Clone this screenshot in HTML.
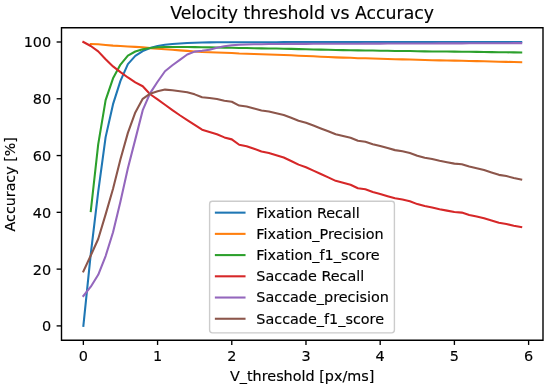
<!DOCTYPE html>
<html><head><meta charset="utf-8"><title>Velocity threshold vs Accuracy</title>
<style>html,body{margin:0;padding:0;background:#fff;width:550px;height:389px;overflow:hidden}svg{display:block}svg text{stroke:#000;stroke-width:0.15px}</style>
</head><body>
<svg width="550" height="389" viewBox="0 0 550 389">
<rect width="550" height="389" fill="#ffffff"/>
<g stroke="#000" stroke-width="1.350"><line x1="83.36" y1="340.10" x2="83.36" y2="344.96"/><line x1="157.57" y1="340.10" x2="157.57" y2="344.96"/><line x1="231.78" y1="340.10" x2="231.78" y2="344.96"/><line x1="305.98" y1="340.10" x2="305.98" y2="344.96"/><line x1="380.19" y1="340.10" x2="380.19" y2="344.96"/><line x1="454.40" y1="340.10" x2="454.40" y2="344.96"/><line x1="528.61" y1="340.10" x2="528.61" y2="344.96"/><line x1="61.47" y1="325.90" x2="56.61" y2="325.90"/><line x1="61.47" y1="269.12" x2="56.61" y2="269.12"/><line x1="61.47" y1="212.34" x2="56.61" y2="212.34"/><line x1="61.47" y1="155.56" x2="56.61" y2="155.56"/><line x1="61.47" y1="98.78" x2="56.61" y2="98.78"/><line x1="61.47" y1="42.00" x2="56.61" y2="42.00"/></g>
<g font-family="'DejaVu Sans', 'Liberation Sans', sans-serif" font-size="14.45" fill="#000"><text x="83.36" y="361.30" text-anchor="middle">0</text><text x="157.57" y="361.30" text-anchor="middle">1</text><text x="231.78" y="361.30" text-anchor="middle">2</text><text x="305.98" y="361.30" text-anchor="middle">3</text><text x="380.19" y="361.30" text-anchor="middle">4</text><text x="454.40" y="361.30" text-anchor="middle">5</text><text x="528.61" y="361.30" text-anchor="middle">6</text><text x="51.20" y="331.35" text-anchor="end">0</text><text x="51.20" y="274.57" text-anchor="end">20</text><text x="51.20" y="217.79" text-anchor="end">40</text><text x="51.20" y="161.01" text-anchor="end">60</text><text x="51.20" y="104.23" text-anchor="end">80</text><text x="51.20" y="47.45" text-anchor="end">100</text></g>
<text x="302.15" y="380.90" text-anchor="middle" font-family="'DejaVu Sans', 'Liberation Sans', sans-serif" font-size="14.36">V_threshold [px/ms]</text>
<text transform="translate(15.00,184.30) rotate(-90)" text-anchor="middle" font-family="'DejaVu Sans', 'Liberation Sans', sans-serif" font-size="14.27">Accuracy [%]</text>
<text x="302.10" y="18.60" text-anchor="middle" font-family="'DejaVu Sans', 'Liberation Sans', sans-serif" font-size="17.3">Velocity threshold vs Accuracy</text>
<defs><clipPath id="c"><rect x="61.47" y="27.8" width="481.6" height="312.3"/></clipPath></defs>
<g clip-path="url(#c)" fill="none" stroke-width="2.083" stroke-linecap="square" stroke-linejoin="round"><path d="M83.36 325.90 L90.78 253.79 L98.20 191.90 L105.62 137.11 L113.04 104.17 L120.46 80.89 L127.88 64.14 L135.31 55.91 L142.73 51.08 L150.15 47.96 L157.57 45.97 L164.99 44.70 L172.41 43.99 L179.83 43.42 L187.25 42.99 L194.67 42.71 L202.09 42.51 L209.51 42.37 L216.93 42.28 L224.36 42.23 L231.78 42.20 L239.20 42.19 L246.62 42.19 L254.04 42.18 L261.46 42.18 L268.88 42.17 L276.30 42.17 L283.72 42.16 L291.14 42.16 L298.56 42.15 L305.98 42.15 L313.40 42.14 L320.83 42.14 L328.25 42.13 L335.67 42.13 L343.09 42.12 L350.51 42.12 L357.93 42.11 L365.35 42.11 L372.77 42.10 L380.19 42.10 L387.61 42.09 L395.03 42.09 L402.45 42.08 L409.88 42.08 L417.30 42.07 L424.72 42.07 L432.14 42.06 L439.56 42.06 L446.98 42.05 L454.40 42.05 L461.82 42.04 L469.24 42.04 L476.66 42.03 L484.08 42.03 L491.50 42.02 L498.92 42.02 L506.35 42.01 L513.77 42.01 L521.19 42.00" stroke="#1f77b4"/><path d="M90.78 44.07 L98.20 44.31 L105.62 45.02 L113.04 45.62 L120.46 46.03 L127.88 46.44 L135.31 46.89 L142.73 47.27 L150.15 48.12 L157.57 48.66 L164.99 49.24 L172.41 49.83 L179.83 50.38 L187.25 50.90 L194.67 51.42 L202.09 51.95 L209.51 52.19 L216.93 52.44 L224.36 52.77 L231.78 52.99 L239.20 53.57 L246.62 53.72 L254.04 54.00 L261.46 54.30 L268.88 54.46 L276.30 54.70 L283.72 54.94 L291.14 55.31 L298.56 55.70 L305.98 55.97 L313.40 56.33 L320.83 56.69 L328.25 57.05 L335.67 57.41 L343.09 57.62 L350.51 57.82 L357.93 58.18 L365.35 58.30 L372.77 58.56 L380.19 58.77 L387.61 59.01 L395.03 59.23 L402.45 59.36 L409.88 59.53 L417.30 59.83 L424.72 60.03 L432.14 60.18 L439.56 60.35 L446.98 60.50 L454.40 60.64 L461.82 60.70 L469.24 60.93 L476.66 61.10 L484.08 61.28 L491.50 61.51 L498.92 61.74 L506.35 61.85 L513.77 62.03 L521.19 62.17" stroke="#ff7f0e"/><path d="M90.78 211.06 L98.20 144.31 L105.62 100.09 L113.04 78.31 L120.46 64.62 L127.88 55.58 L135.31 51.47 L142.73 49.19 L150.15 48.04 L157.57 47.32 L164.99 46.99 L172.41 46.94 L179.83 46.94 L187.25 47.00 L194.67 47.14 L202.09 47.31 L209.51 47.37 L216.93 47.45 L224.36 47.60 L231.78 47.70 L239.20 48.00 L246.62 48.08 L254.04 48.22 L261.46 48.37 L268.88 48.45 L276.30 48.58 L283.72 48.70 L291.14 48.89 L298.56 49.09 L305.98 49.23 L313.40 49.42 L320.83 49.61 L328.25 49.79 L335.67 49.98 L343.09 50.09 L350.51 50.19 L357.93 50.38 L365.35 50.44 L372.77 50.58 L380.19 50.69 L387.61 50.81 L395.03 50.92 L402.45 50.99 L409.88 51.08 L417.30 51.24 L424.72 51.34 L432.14 51.42 L439.56 51.51 L446.98 51.58 L454.40 51.66 L461.82 51.69 L469.24 51.81 L476.66 51.90 L484.08 51.99 L491.50 52.11 L498.92 52.23 L506.35 52.29 L513.77 52.38 L521.19 52.46" stroke="#2ca02c"/><path d="M83.36 42.00 L90.78 45.97 L98.20 51.37 L105.62 59.32 L113.04 66.42 L120.46 72.09 L127.88 77.49 L135.31 82.31 L142.73 86.29 L150.15 94.24 L157.57 99.35 L164.99 104.74 L172.41 110.14 L179.83 115.25 L187.25 120.07 L194.67 124.90 L202.09 129.73 L209.51 132.00 L216.93 134.27 L224.36 137.39 L231.78 139.38 L239.20 144.77 L246.62 146.19 L254.04 148.75 L261.46 151.59 L268.88 153.00 L276.30 155.28 L283.72 157.55 L291.14 160.95 L298.56 164.64 L305.98 167.20 L313.40 170.61 L320.83 174.01 L328.25 177.42 L335.67 180.83 L343.09 182.81 L350.51 184.80 L357.93 188.21 L365.35 189.34 L372.77 191.90 L380.19 193.89 L387.61 196.16 L395.03 198.29 L402.45 199.56 L409.88 201.27 L417.30 204.11 L424.72 206.09 L432.14 207.51 L439.56 209.22 L446.98 210.64 L454.40 212.06 L461.82 212.62 L469.24 214.90 L476.66 216.60 L484.08 218.30 L491.50 220.57 L498.92 222.84 L506.35 223.98 L513.77 225.68 L521.19 227.10" stroke="#d62728"/><path d="M83.36 295.95 L90.78 286.72 L98.20 274.80 L105.62 256.06 L113.04 232.21 L120.46 201.55 L127.88 168.34 L135.31 139.38 L142.73 110.14 L150.15 93.10 L157.57 81.75 L164.99 71.24 L172.41 65.28 L179.83 59.89 L187.25 54.49 L194.67 51.65 L202.09 50.80 L209.51 49.67 L216.93 47.68 L224.36 46.26 L231.78 45.26 L239.20 44.75 L246.62 44.50 L254.04 44.33 L261.46 44.19 L268.88 44.04 L276.30 43.96 L283.72 43.93 L291.14 43.91 L298.56 43.88 L305.98 43.86 L313.40 43.83 L320.83 43.81 L328.25 43.78 L335.67 43.76 L343.09 43.73 L350.51 43.71 L357.93 43.68 L365.35 43.66 L372.77 43.63 L380.19 43.61 L387.61 43.58 L395.03 43.56 L402.45 43.53 L409.88 43.51 L417.30 43.48 L424.72 43.46 L432.14 43.43 L439.56 43.41 L446.98 43.39 L454.40 43.36 L461.82 43.34 L469.24 43.31 L476.66 43.29 L484.08 43.26 L491.50 43.24 L498.92 43.21 L506.35 43.19 L513.77 43.16 L521.19 43.14" stroke="#9467bd"/><path d="M83.36 271.39 L90.78 255.49 L98.20 239.03 L105.62 214.33 L113.04 188.78 L120.46 159.25 L127.88 132.85 L135.31 112.41 L142.73 98.84 L150.15 93.67 L157.57 91.30 L164.99 89.60 L172.41 90.25 L179.83 91.21 L187.25 92.21 L194.67 94.35 L202.09 97.30 L209.51 98.04 L216.93 98.95 L224.36 100.69 L231.78 101.80 L239.20 105.58 L246.62 106.56 L254.04 108.42 L261.46 110.53 L268.88 111.58 L276.30 113.31 L283.72 115.07 L291.14 117.76 L298.56 120.71 L305.98 122.79 L313.40 125.59 L320.83 128.44 L328.25 131.34 L335.67 134.28 L343.09 136.02 L350.51 137.77 L357.93 140.82 L365.35 141.84 L372.77 144.17 L380.19 146.00 L387.61 148.12 L395.03 150.12 L402.45 151.33 L409.88 152.96 L417.30 155.71 L424.72 157.65 L432.14 159.06 L439.56 160.75 L446.98 162.17 L454.40 163.61 L461.82 164.18 L469.24 166.50 L476.66 168.26 L484.08 170.04 L491.50 172.43 L498.92 174.85 L506.35 176.07 L513.77 177.92 L521.19 179.47" stroke="#8c564b"/></g>
<path d="M61.50 340.30 L61.50 27.70 M543.00 340.30 L543.00 27.70 M61.50 340.30 L543.00 340.30 M61.50 27.70 L543.00 27.70" fill="none" stroke="#000" stroke-width="1.400" stroke-linecap="square" stroke-linejoin="miter"/>
<rect x="209.60" y="201.20" width="184.80" height="131.70" rx="2.78" ry="2.78" fill="#fff" fill-opacity="0.8" stroke="#ccc" stroke-width="1.389"/>
<g><line x1="215.90" y1="212.65" x2="244.50" y2="212.65" stroke="#1f77b4" stroke-width="2.083" stroke-linecap="square"/><text x="256.30" y="217.60" font-family="'DejaVu Sans', 'Liberation Sans', sans-serif" font-size="14.38">Fixation Recall</text><line x1="215.90" y1="233.87" x2="244.50" y2="233.87" stroke="#ff7f0e" stroke-width="2.083" stroke-linecap="square"/><text x="256.30" y="238.82" font-family="'DejaVu Sans', 'Liberation Sans', sans-serif" font-size="14.38">Fixation_Precision</text><line x1="215.90" y1="255.09" x2="244.50" y2="255.09" stroke="#2ca02c" stroke-width="2.083" stroke-linecap="square"/><text x="256.30" y="260.04" font-family="'DejaVu Sans', 'Liberation Sans', sans-serif" font-size="14.38">Fixation_f1_score</text><line x1="215.90" y1="276.31" x2="244.50" y2="276.31" stroke="#d62728" stroke-width="2.083" stroke-linecap="square"/><text x="256.30" y="281.26" font-family="'DejaVu Sans', 'Liberation Sans', sans-serif" font-size="14.38">Saccade Recall</text><line x1="215.90" y1="297.53" x2="244.50" y2="297.53" stroke="#9467bd" stroke-width="2.083" stroke-linecap="square"/><text x="256.30" y="302.48" font-family="'DejaVu Sans', 'Liberation Sans', sans-serif" font-size="14.38">Saccade_precision</text><line x1="215.90" y1="318.75" x2="244.50" y2="318.75" stroke="#8c564b" stroke-width="2.083" stroke-linecap="square"/><text x="256.30" y="323.70" font-family="'DejaVu Sans', 'Liberation Sans', sans-serif" font-size="14.38">Saccade_f1_score</text></g>
</svg>
</body></html>
